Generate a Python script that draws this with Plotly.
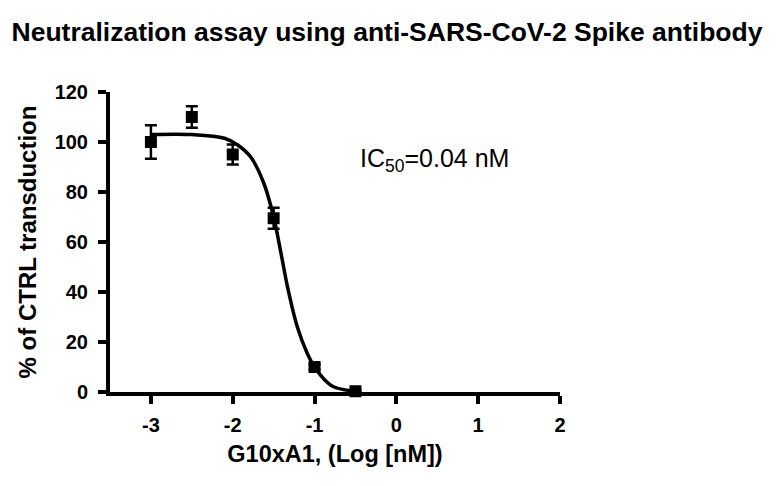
import plotly.graph_objects as go

# measured points (log nM) with SEM
log_conc = [-3.0, -2.5, -2.0, -1.5, -1.0, -0.5]
pct_ctrl = [100.0, 110.0, 95.0, 69.5, 10.0, 0.3]
sem = [6.7, 4.3, 4.0, 4.2, 1.0, 0.5]

# fitted curve
fit_x = [-3.0, -2.5, -2.1, -1.94, -1.78, -1.62, -1.5, -1.41, -1.33, -1.21, -1.09, -1.0, -0.88, -0.76, -0.5]
fit_y = [103.0, 103.0, 101.5, 98.8, 94.0, 83.5, 70.0, 55.5, 42.0, 26.0, 15.5, 10.0, 5.0, 2.0, 0.3]

x_ticks = [-3, -2, -1, 0, 1, 2]
x_labels = ["-3", "-2", "-1", "0", "1", "2"]
y_ticks = [0, 20, 40, 60, 80, 100, 120]

FONT = "Liberation Sans, Arial, sans-serif"
bold = dict(family=FONT, size=20, color="black", weight="bold")

fig = go.Figure()
fig.add_trace(go.Scatter(x=fit_x, y=fit_y, mode="lines",
                         line=dict(color="black", width=3.5, shape="spline"),
                         cliponaxis=False, showlegend=False))
fig.add_trace(go.Scatter(x=log_conc, y=pct_ctrl, mode="markers",
                         marker=dict(symbol="square", size=12, color="black"),
                         error_y=dict(type="data", array=sem, color="black", thickness=2.5, width=6),
                         cliponaxis=False, showlegend=False))

fig.add_annotation(x=0.46, y=92.8, text="IC<sub>50</sub>=0.04 nM", showarrow=False,
                   font=dict(family=FONT, size=25, color="black"))

# page body adds an 8px offset, margins compensate for it
fig.update_layout(
    width=778, height=486,
    margin=dict(l=102, r=226, t=84, b=102),
    paper_bgcolor="white", plot_bgcolor="white",
    title=dict(text="Neutralization assay using anti-SARS-CoV-2 Spike antibody",
               xref="container", x=(387 - 8) / 778, xanchor="center",
               yref="container", y=1 - 24 / 486, yanchor="middle",
               font=dict(family=FONT, size=26.5, color="black", weight="bold")),
)

fig.update_xaxes(range=[-3.5, 2], tickvals=x_ticks, ticktext=x_labels,
                 showgrid=False, zeroline=False,
                 showline=True, linecolor="black", linewidth=4,
                 ticks="outside", ticklen=8, tickwidth=4, tickcolor="black",
                 tickfont=bold, ticklabelstandoff=4,
                 title=dict(text="G10xA1, (Log [nM])", font=dict(bold, size=23.5), standoff=12))
fig.update_yaxes(range=[0, 120], tickvals=y_ticks, showgrid=False, zeroline=False,
                 showline=True, linecolor="black", linewidth=4,
                 ticks="outside", ticklen=8, tickwidth=4, tickcolor="black",
                 tickfont=bold, ticklabelstandoff=6,
                 title=dict(text="% of CTRL transduction", font=dict(bold, size=24), standoff=12))

fig.write_html("out.html")
